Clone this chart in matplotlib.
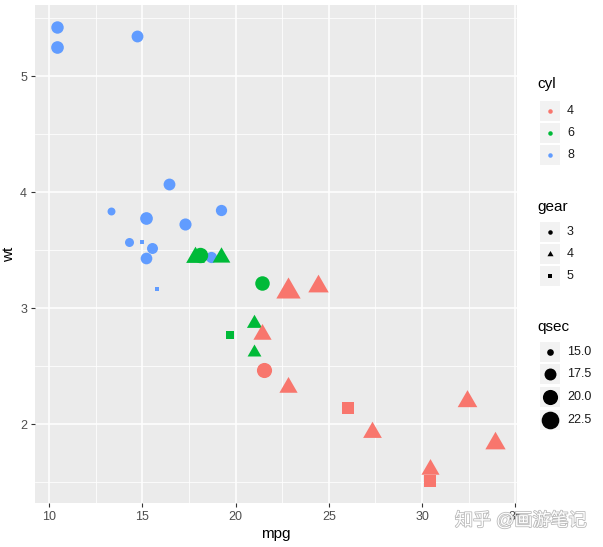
import matplotlib
matplotlib.use("Agg")
import matplotlib.pyplot as plt
from matplotlib.patches import Rectangle
from matplotlib.lines import Line2D
import matplotlib.patheffects as pe
import numpy as np

# mtcars data (mpg, wt, cyl, gear, qsec)
mpg = [21.0, 21.0, 22.8, 21.4, 18.7, 18.1, 14.3, 24.4, 22.8, 19.2, 17.8, 16.4, 17.3, 15.2,
       10.4, 10.4, 14.7, 32.4, 30.4, 33.9, 21.5, 15.5, 15.2, 13.3, 19.2, 27.3, 26.0, 30.4,
       15.8, 19.7, 15.0, 21.4]
wt = [2.620, 2.875, 2.320, 3.215, 3.440, 3.460, 3.570, 3.190, 3.150, 3.440, 3.440, 4.070,
      3.730, 3.780, 5.250, 5.424, 5.345, 2.200, 1.615, 1.835, 2.465, 3.520, 3.435, 3.840,
      3.845, 1.935, 2.140, 1.513, 3.170, 2.770, 3.570, 2.780]
cyl = [6, 6, 4, 6, 8, 6, 8, 4, 4, 6, 6, 8, 8, 8, 8, 8, 8, 4, 4, 4, 4, 8, 8, 8, 8, 4, 4, 4,
       8, 6, 8, 4]
gear = [4, 4, 4, 3, 3, 3, 3, 4, 4, 4, 4, 3, 3, 3, 3, 3, 3, 4, 4, 4, 3, 3, 3, 3, 3, 4, 5, 5,
        5, 5, 5, 4]
qsec = [16.46, 17.02, 18.61, 19.44, 17.02, 20.22, 15.84, 20.00, 22.90, 18.30, 18.90, 17.40,
        17.60, 18.00, 17.98, 17.82, 17.42, 19.47, 18.52, 19.90, 20.01, 16.87, 17.30, 15.41,
        17.05, 18.90, 16.70, 16.90, 14.50, 15.50, 14.60, 18.60]

cyl_levels = [4, 6, 8]
gear_levels = [3, 4, 5]
qsec_breaks = [15.0, 17.5, 20.0, 22.5]
x_ticks = [10, 15, 20, 25, 30, 35]
y_ticks = [2, 3, 4, 5]

# styles
cyl_colors = {4: "#F8766D", 6: "#00BA38", 8: "#619CFF"}
TRI = [(0.0, 1.0), (-0.866, -0.5), (0.866, -0.5)]
gear_marker = {3: "o", 4: TRI, 5: "s"}
PX = 3.0            # pixels of circle diameter per ggplot size unit
DPI = 100
PT_PER_PX = 72.0 / DPI
shape_scale = {3: 1.0, 4: 1.56, 5: 1.07}

qmin, qmax = min(qsec), max(qsec)


def size_of(q):
    t = (q - qmin) / (qmax - qmin)
    return 1 + 5 * np.sqrt(max(t, 0))


plt.rcParams['font.family'] = ['Liberation Sans', 'Noto Sans CJK SC', 'DejaVu Sans']

W, H = 603, 547
fig = plt.figure(figsize=(W / DPI, H / DPI), dpi=DPI)
fig.patch.set_facecolor("white")

pl, pr, pt, pb = 34.8, 516.7, 4.5, 503.4
ax = fig.add_axes([pl / W, 1 - pb / H, (pr - pl) / W, (pb - pt) / H])
ax.set_facecolor("#EBEBEB")

xr = max(mpg) - min(mpg)
yr = max(wt) - min(wt)
ax.set_xlim(min(mpg) - 0.05 * xr, max(mpg) + 0.05 * xr)
ax.set_ylim(min(wt) - 0.05 * yr, max(wt) + 0.05 * yr)

for x in np.arange(12.5, 35, 5):
    ax.axvline(x, color="white", lw=0.55, zorder=0.5)
for y in np.arange(1.5, 5.6, 1.0):
    ax.axhline(y, color="white", lw=0.55, zorder=0.5)
for x in x_ticks:
    ax.axvline(x, color="white", lw=1.1, zorder=0.6)
for y in y_ticks:
    ax.axhline(y, color="white", lw=1.1, zorder=0.6)

for i in range(len(mpg)):
    s = size_of(qsec[i])
    ms = PX * s * PT_PER_PX * shape_scale[gear[i]]
    ax.plot([mpg[i]], [wt[i]], linestyle="none", marker=gear_marker[gear[i]],
            markersize=ms, color=cyl_colors[cyl[i]], markeredgewidth=0, zorder=2)

for sp in ax.spines.values():
    sp.set_visible(False)
ax.set_xticks(x_ticks)
ax.set_yticks(y_ticks)
ax.set_xticklabels([str(v) for v in x_ticks])
ax.set_yticklabels([str(v) for v in y_ticks])
ax.tick_params(axis="both", colors="#333333", labelcolor="#4D4D4D", labelsize=9,
               length=3, width=0.8, pad=2.5)
ax.set_xlabel("mpg", fontsize=11, color="black", labelpad=3)
ax.set_ylabel("wt", fontsize=11, color="black", labelpad=3)

# ---- legends (manual, figure pixel coordinates) ----
def fx(px):
    return px / W


def fy(py):
    return 1 - py / H


KX = 550      # key centre x
KS = 20       # key box size
LX = 567      # label x
TX = 537      # title x


def key_box(cy):
    fig.add_artist(Rectangle((fx(KX - KS / 2), fy(cy + KS / 2)), KS / W, KS / H,
                             transform=fig.transFigure, facecolor="#F2F2F2",
                             edgecolor="none"))


def key_marker(cy, marker, ms, color):
    fig.add_artist(Line2D([fx(KX)], [fy(cy)], transform=fig.transFigure,
                          marker=marker, markersize=ms, color=color,
                          markeredgewidth=0, linestyle="none"))


def title(cy, txt):
    fig.text(fx(TX), fy(cy), txt, fontsize=11, ha="left", va="center", color="black")


def label(cy, txt):
    fig.text(fx(LX), fy(cy), txt, fontsize=9, ha="left", va="center", color="#1A1A1A")


title(84, "cyl")
for cy, lv in zip([111, 133, 155], cyl_levels):
    key_box(cy)
    key_marker(cy, "o", PX * 1.5 * PT_PER_PX, cyl_colors[lv])
    label(cy, str(lv))

title(207, "gear")
for cy, lv in zip([232, 254, 276], gear_levels):
    key_box(cy)
    key_marker(cy, gear_marker[lv], PX * 1.5 * PT_PER_PX * shape_scale[lv], "black")
    label(cy, str(lv))

title(327, "qsec")
for cy, q in zip([352, 374, 397, 420], qsec_breaks):
    key_box(cy)
    key_marker(cy, "o", PX * size_of(q) * PT_PER_PX, "black")
    label(cy, "%.1f" % q)

# watermark
fig.text(fx(455), fy(521), "知乎 @画游笔记", fontsize=13, color="white",
         ha="left", va="center",
         path_effects=[pe.withStroke(linewidth=1.2, foreground="#BBBBBB")])

fig.savefig("out.png", dpi=DPI)
